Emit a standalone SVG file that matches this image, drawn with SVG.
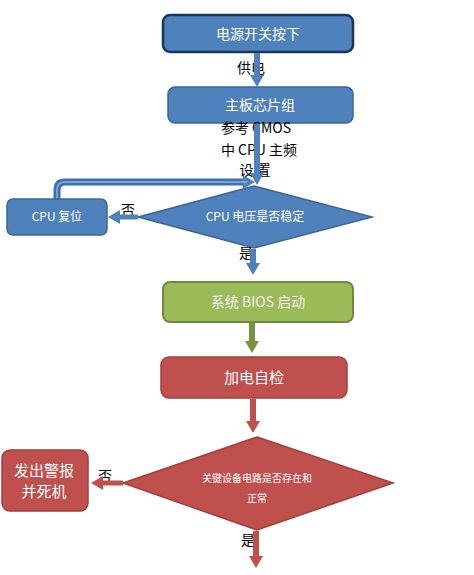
<svg xmlns="http://www.w3.org/2000/svg" width="474" height="575" viewBox="0 0 474 575">
<style>
.t{font-family:"Noto Sans CJK SC","Liberation Sans",sans-serif;fill:#ffffff;text-anchor:middle}
.l{font-family:"Noto Sans CJK SC","Liberation Sans",sans-serif;fill:#000000;text-anchor:middle;font-size:14px}
.blue{fill:#4f81bd;stroke:#3b6596;stroke-width:1.5}
.green{fill:#9bbb59;stroke:#71893f;stroke-width:2}
.red{fill:#c0504d;stroke:#a33f3c;stroke-width:1.5}
.ab{stroke:#4f81bd;stroke-width:6;fill:none}
.ag{stroke:#77933c;stroke-width:6;fill:none}
.ar{stroke:#c0504d;stroke-width:6;fill:none}
</style>
<defs>
<marker id="hb" markerUnits="userSpaceOnUse" markerWidth="14" markerHeight="14" viewBox="0 0 12 14" refX="4" refY="7" orient="auto"><path d="M0,0 L12,7 L0,14 z" fill="#4f81bd"/></marker>
<marker id="hg" markerUnits="userSpaceOnUse" markerWidth="14" markerHeight="14" viewBox="0 0 12 14" refX="4" refY="7" orient="auto"><path d="M0,0 L12,7 L0,14 z" fill="#77933c"/></marker>
<marker id="hr" markerUnits="userSpaceOnUse" markerWidth="14" markerHeight="14" viewBox="0 0 12 14" refX="4" refY="7" orient="auto"><path d="M0,0 L12,7 L0,14 z" fill="#c0504d"/></marker>
</defs>
<rect width="474" height="575" fill="#ffffff"/>

<g id="n1"><rect x="163" y="15" width="190" height="37" rx="7" fill="#4f81bd" stroke="#17375e" stroke-width="2.5"/><text class="t" x="258" y="39" font-size="14">电源开关按下</text></g>
<g id="n2"><rect x="168" y="87" width="185" height="36" rx="7" class="blue"/><text class="t" x="260" y="110" font-size="14">主板芯片组</text></g>
<g id="n3"><rect x="7" y="199" width="100" height="36" rx="6" class="blue"/><text class="t" x="57" y="221" font-size="12">CPU 复位</text></g>
<g id="n4"><path d="M254,186 L372,217 L254,248 L138,217 Z" class="blue"/><text class="t" x="255" y="221" font-size="12">CPU 电压是否稳定</text></g>
<g id="n5"><rect x="163" y="282" width="190" height="40" rx="7" class="green"/><text class="t" x="258" y="307" font-size="14" style="fill:#f0f0f0">系统 BIOS 启动</text></g>
<g id="n6"><rect x="161" y="357" width="186" height="41" rx="8" class="red"/><text class="t" x="254" y="383" font-size="15">加电自检</text></g>
<g id="n7"><path d="M257,437 L393,483 L257,530 L123,483 Z" class="red"/><text class="t" x="257" y="482" font-size="10">关键设备电路是否存在和</text><text class="t" x="257" y="502" font-size="10">正常</text></g>
<g id="n8"><rect x="2" y="450" width="86" height="61" rx="8" class="red"/><text class="t" x="44" y="476" font-size="15">发出警报</text><text class="t" x="44" y="497" font-size="15">并死机</text></g>

<g id="connectors">
<text class="l" x="251" y="73">供电</text>
<text class="l" x="256" y="133">参考 CMOS</text>
<text class="l" x="259" y="155">中 CPU 主频</text>
<text class="l" x="255" y="175">设 置</text>
<text class="l" x="246" y="258">是</text>
<text class="l" x="128" y="215">否</text>
<text class="l" x="105" y="481">否</text>
<text class="l" x="248" y="545">是</text>
<line x1="257" y1="53" x2="257" y2="79" class="ab" marker-end="url(#hb)"/>
<line x1="257" y1="124" x2="257" y2="177" class="ab" marker-end="url(#hb)"/>
<path d="M57,199 L57,190 Q57,182 65,182 L247,182" stroke="#3f6fae" stroke-width="7" fill="none" marker-end="url(#hb)"/>
<path d="M57,198 L57,190 Q57,182 65,182 L247,182" stroke="#8db3e2" stroke-width="1.5" fill="none"/>
<line x1="138" y1="217" x2="116" y2="217" stroke="#4f81bd" stroke-width="5" marker-end="url(#hb)"/>
<line x1="253" y1="249" x2="253" y2="267" class="ab" marker-end="url(#hb)"/>
<line x1="252" y1="323" x2="252" y2="345" class="ag" marker-end="url(#hg)"/>
<line x1="253" y1="399" x2="253" y2="425" class="ar" marker-end="url(#hr)"/>
<line x1="123" y1="483" x2="99" y2="483" stroke="#c0504d" stroke-width="5" marker-end="url(#hr)"/>
<line x1="256" y1="531" x2="256" y2="560" class="ar" marker-end="url(#hr)"/>
</g>
</svg>
